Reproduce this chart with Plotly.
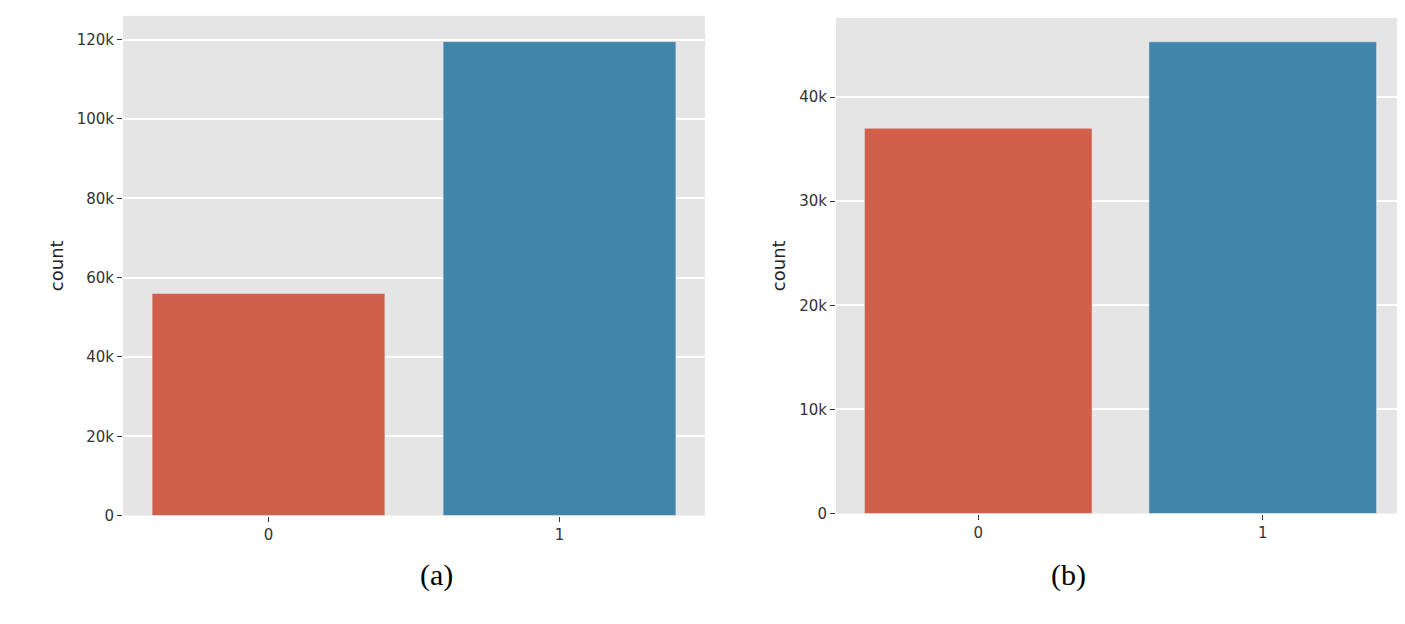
import plotly.graph_objects as go

categories = ["0", "1"]
counts_a = [56000, 119500]
counts_b = [37000, 45300]
bar_colors = ["#D0604A", "#4285AB"]

W, H = 1405, 624
fig = go.Figure()
fig.add_trace(go.Bar(x=categories, y=counts_a, marker_color=bar_colors, width=0.8,
                     xaxis="x", yaxis="y", showlegend=False))
fig.add_trace(go.Bar(x=categories, y=counts_b, marker_color=bar_colors, width=0.8,
                     xaxis="x2", yaxis="y2", showlegend=False))

axis_font = dict(family="DejaVu Sans", size=15, color="#333")
common_y = dict(gridcolor="white", gridwidth=1.5, zeroline=False, ticks="outside",
                ticklen=5, tickcolor="#333", tickfont=axis_font, showline=False,
                title=dict(text="count", font=dict(family="DejaVu Sans", size=18, color="#222"), standoff=8))
common_x = dict(showgrid=False, ticks="outside", ticklen=5, tickcolor="#333",
                tickfont=axis_font, range=[-0.5, 1.5], type="category")

fig.update_layout(
    width=W, height=H,
    margin=dict(l=0, r=0, t=0, b=0),
    paper_bgcolor="white", plot_bgcolor="#E5E5E5",
    xaxis=dict(domain=[115 / W, 697 / W], anchor="y", **common_x),
    yaxis=dict(domain=[1 - 515 / H, 1 - 8 / H], anchor="x", range=[0, 126000],
               tickvals=[0, 20000, 40000, 60000, 80000, 100000, 120000], **common_y),
    xaxis2=dict(domain=[828 / W, 1397 / W], anchor="y2", **common_x),
    yaxis2=dict(domain=[1 - 513 / H, 1 - 10 / H], anchor="x2", range=[0, 47600],
                tickvals=[0, 10000, 20000, 30000, 40000], **common_y),
    annotations=[
        dict(text="(a)", x=410 / W, y=1 - 595 / H, xref="paper", yref="paper",
             showarrow=False, font=dict(family="Liberation Serif", size=30, color="black")),
        dict(text="(b)", x=1080 / W, y=1 - 595 / H, xref="paper", yref="paper",
             showarrow=False, font=dict(family="Liberation Serif", size=30, color="black")),
    ],
)

fig.write_html("out.html")
